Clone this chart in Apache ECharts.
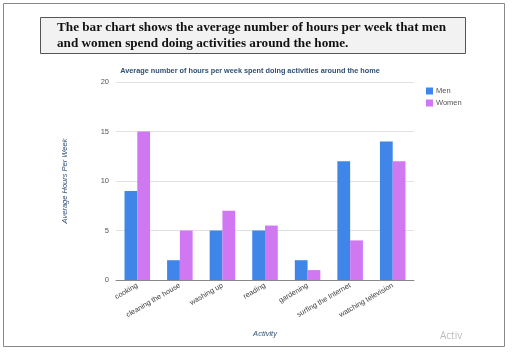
<!DOCTYPE html>
<html>
<head>
<meta charset="utf-8">
<script src="https://cdn.jsdelivr.net/npm/echarts@6/dist/echarts.min.js"></script>
<style>
html, body { margin: 0; padding: 0; background: #fff; }
#main { width: 512px; height: 354px; }
</style>
</head>
<body>
<div id="main"></div>
<script>
// 数据
var activities = ['cooking', 'cleaning the house', 'washing up', 'reading', 'gardening', 'surfing the Internet', 'watching television'];
var menHours = [9, 2, 5, 5, 2, 12, 14];
var womenHours = [15, 5, 7, 5.5, 1, 4, 12];
var yTicks = [0, 5, 10, 15, 20];

var main = document.getElementById('main');
var chart = echarts.init(main);

var option = {
    animation: false,
    backgroundColor: '#fff',
    title: {
        text: 'Average number of hours per week spent doing activities around the home',
        left: 245,
        top: 62,
        textAlign: 'center',
        textStyle: {
            fontFamily: 'Liberation Sans',
            fontSize: 7.3,
            fontWeight: 'bold',
            color: '#2f4f73'
        }
    },
    legend: {
        orient: 'vertical',
        left: 421,
        top: 82,
        itemWidth: 7,
        itemHeight: 7,
        itemGap: 4,
        icon: 'rect',
        textStyle: { fontSize: 7.5, color: '#555', fontFamily: 'Liberation Sans', padding: [0, 0, 0, -2] },
        data: ['Men', 'Women']
    },
    grid: {
        left: 116,
        right: 98,
        top: 82,
        bottom: 74
    },
    xAxis: {
        type: 'category',
        data: activities,
        name: 'Activity',
        nameLocation: 'middle',
        nameGap: 50,
        nameTextStyle: { fontStyle: 'italic', fontSize: 7.5, color: '#2f4f73', fontFamily: 'Liberation Sans' },
        axisLine: { lineStyle: { color: '#888', width: 1 } },
        axisTick: { show: false },
        axisLabel: {
            interval: 0,
            rotate: 30,
            fontSize: 7.3,
            color: '#444',
            margin: 5,
            fontFamily: 'Liberation Sans'
        }
    },
    yAxis: {
        type: 'value',
        min: yTicks[0],
        max: yTicks[yTicks.length - 1],
        interval: 5,
        name: 'Average Hours Per Week',
        nameLocation: 'middle',
        nameGap: 47,
        nameTextStyle: { fontStyle: 'italic', fontSize: 7.5, color: '#2f4f73', fontFamily: 'Liberation Sans' },
        axisLine: { show: false },
        axisTick: { show: false },
        axisLabel: { fontSize: 7.5, color: '#555', margin: 7, fontFamily: 'Liberation Sans' },
        splitLine: { lineStyle: { color: '#e2e2e2', width: 1 } }
    },
    series: [
        {
            name: 'Men',
            type: 'bar',
            data: menHours,
            barGap: '0%',
            barCategoryGap: '40%',
            itemStyle: { color: '#3f86e8' }
        },
        {
            name: 'Women',
            type: 'bar',
            data: womenHours,
            itemStyle: { color: '#d078f2' }
        }
    ],
    graphic: [
        // 外框
        {
            type: 'rect',
            shape: { x: 3.5, y: 3.5, width: 501, height: 343 },
            style: { fill: 'none', stroke: '#888', lineWidth: 1 },
            z: 0
        },
        // 题目框
        {
            type: 'rect',
            shape: { x: 40.5, y: 17.5, width: 425, height: 36 },
            style: { fill: '#f2f2f2', stroke: '#555', lineWidth: 1 },
            z: 1
        },
        {
            type: 'text',
            left: 57,
            top: 19,
            style: {
                text: 'The bar chart shows the average number of hours per week that men\nand women spend doing activities around the home.',
                font: 'bold 13.2px "Liberation Serif"',
                fill: '#111',
                lineHeight: 16.5
            },
            z: 2
        },
        {
            type: 'text',
            left: 440,
            top: 331,
            style: {
                text: 'Activ',
                font: '10px "Open Sans"',
                fill: '#bbb'
            },
            z: 2
        }
    ]
};

chart.setOption(option);
</script>
</body>
</html>
